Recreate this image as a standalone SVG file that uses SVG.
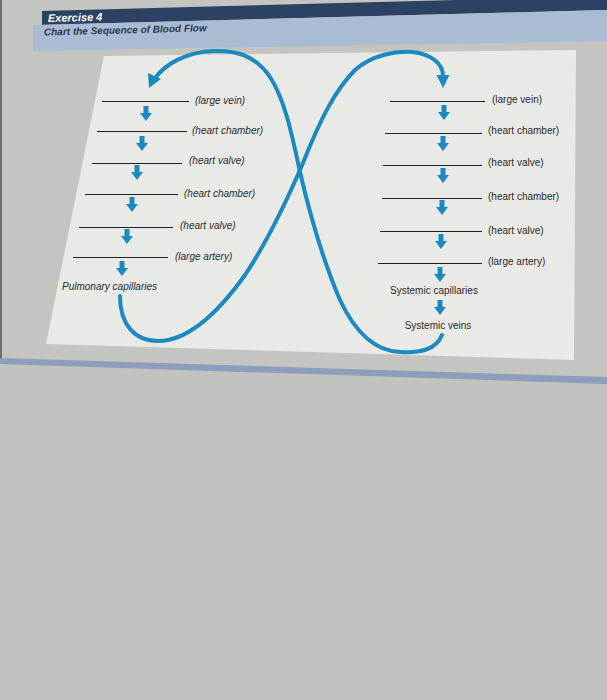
<svg xmlns="http://www.w3.org/2000/svg" width="607" height="700" viewBox="0 0 607 700">
<style>
.lbl{font-family:"Liberation Sans",Arial,sans-serif;font-size:10px;fill:#2b2b2b}
.it{font-style:italic}
.rl{stroke:#222222;stroke-width:1}
.flow{fill:none;stroke:#1a8ac0;stroke-width:4;stroke-linecap:round}
.ar{fill:#1a8ac0}
</style>
<defs>
<path id="da" d="M-2.5,0 H2.5 V7 H6 L0,15 L-6,7 H-2.5 Z"/>
</defs>
<!-- background photo -->
<rect x="0" y="0" width="607" height="700" fill="#c4c5c0"/>
<rect x="0" y="0" width="2" height="700" fill="#6b6b6b"/>
<polygon points="0,360 607,380 607,700 0,700" fill="#c2c3be"/>
<polygon points="0,358 607,377 607,384 0,364" fill="#8d9dbb"/>
<!-- header bands -->
<polygon points="42,11 607,-4 607,10 42,25" fill="#2c4262"/>
<polygon points="33,25 607,10 607,41 33,51" fill="#aabbd4"/>
<text x="48" y="22" transform="rotate(-1.5 48 22)" font-family="Liberation Sans,Arial,sans-serif" font-size="11" font-weight="bold" font-style="italic" fill="#ffffff">Exercise 4</text>
<text x="44" y="35.5" transform="rotate(-1.5 44 35.5)" font-family="Liberation Sans,Arial,sans-serif" font-size="10" font-weight="bold" font-style="italic" fill="#2d3a4f">Chart the Sequence of Blood Flow</text>
<!-- panel -->
<polygon points="104,56 576,50 574,360 46,344" fill="#e9eae6"/>
<!-- connectors -->
<g id="connectors">
<path class="flow" d="M120,296 C120,325 135,341 158,341 C190,341 220,310 245,275 C265,245 285,205 303,163 C320,120 335,90 355,70 C372,55 395,51 412,52 C432,54 443,64 443,76"/>
<polygon class="ar" points="436.5,75 449.5,75 443,88"/>
<path class="flow" d="M442,335 C436,350 420,353 400,352 C375,351 355,332 340,300 C325,265 310,215 300,172 C292,135 285,100 270,77 C255,55 235,50 213,51 C185,52 165,65 156,77"/>
<polygon class="ar" points="148,73 161,79 149,88"/>
<use href="#da" x="146" y="106" class="ar"/>
<use href="#da" x="142" y="136" class="ar"/>
<use href="#da" x="137" y="165" class="ar"/>
<use href="#da" x="132" y="197" class="ar"/>
<use href="#da" x="127" y="229" class="ar"/>
<use href="#da" x="122" y="261" class="ar"/>
<use href="#da" x="444" y="105" class="ar"/>
<use href="#da" x="443" y="136" class="ar"/>
<use href="#da" x="443" y="168" class="ar"/>
<use href="#da" x="442" y="200" class="ar"/>
<use href="#da" x="441" y="234" class="ar"/>
<use href="#da" x="440" y="267" class="ar"/>
<use href="#da" x="440" y="300" class="ar"/>
</g>
<!-- left column (pulmonary) -->
<g id="L1"><line class="rl" x1="102" y1="101.5" x2="189" y2="101.5"/><text class="lbl it" x="195" y="104">(large vein)</text></g>
<g id="L2"><line class="rl" x1="97" y1="131.5" x2="187" y2="131.5"/><text class="lbl it" x="192" y="134">(heart chamber)</text></g>
<g id="L3"><line class="rl" x1="92" y1="163.5" x2="182" y2="163.5"/><text class="lbl it" x="189" y="164">(heart valve)</text></g>
<g id="L4"><line class="rl" x1="85" y1="194.5" x2="178" y2="194.5"/><text class="lbl it" x="184" y="197">(heart chamber)</text></g>
<g id="L5"><line class="rl" x1="79" y1="227.5" x2="173" y2="227.5"/><text class="lbl it" x="180" y="229">(heart valve)</text></g>
<g id="L6"><line class="rl" x1="73" y1="257.5" x2="168" y2="257.5"/><text class="lbl it" x="175" y="260">(large artery)</text></g>
<g id="pulm"><text class="lbl it" x="62" y="290">Pulmonary capillaries</text></g>
<!-- right column (systemic) -->
<g id="R1"><line class="rl" x1="390" y1="101.5" x2="485" y2="101.5"/><text class="lbl" x="492" y="102.5">(large vein)</text></g>
<g id="R2"><line class="rl" x1="385" y1="133.5" x2="482" y2="133.5"/><text class="lbl" x="488" y="133.5">(heart chamber)</text></g>
<g id="R3"><line class="rl" x1="383" y1="165.5" x2="482" y2="165.5"/><text class="lbl" x="488" y="166">(heart valve)</text></g>
<g id="R4"><line class="rl" x1="382" y1="198.5" x2="482" y2="198.5"/><text class="lbl" x="488" y="199.5">(heart chamber)</text></g>
<g id="R5"><line class="rl" x1="380" y1="231.5" x2="482" y2="231.5"/><text class="lbl" x="488" y="234">(heart valve)</text></g>
<g id="R6"><line class="rl" x1="378" y1="263.5" x2="482" y2="263.5"/><text class="lbl" x="488" y="265">(large artery)</text></g>
<g id="syscap"><text class="lbl" x="434" y="293.5" text-anchor="middle">Systemic capillaries</text></g>
<g id="sysvein"><text class="lbl" x="438" y="328.5" text-anchor="middle">Systemic veins</text></g>
</svg>
